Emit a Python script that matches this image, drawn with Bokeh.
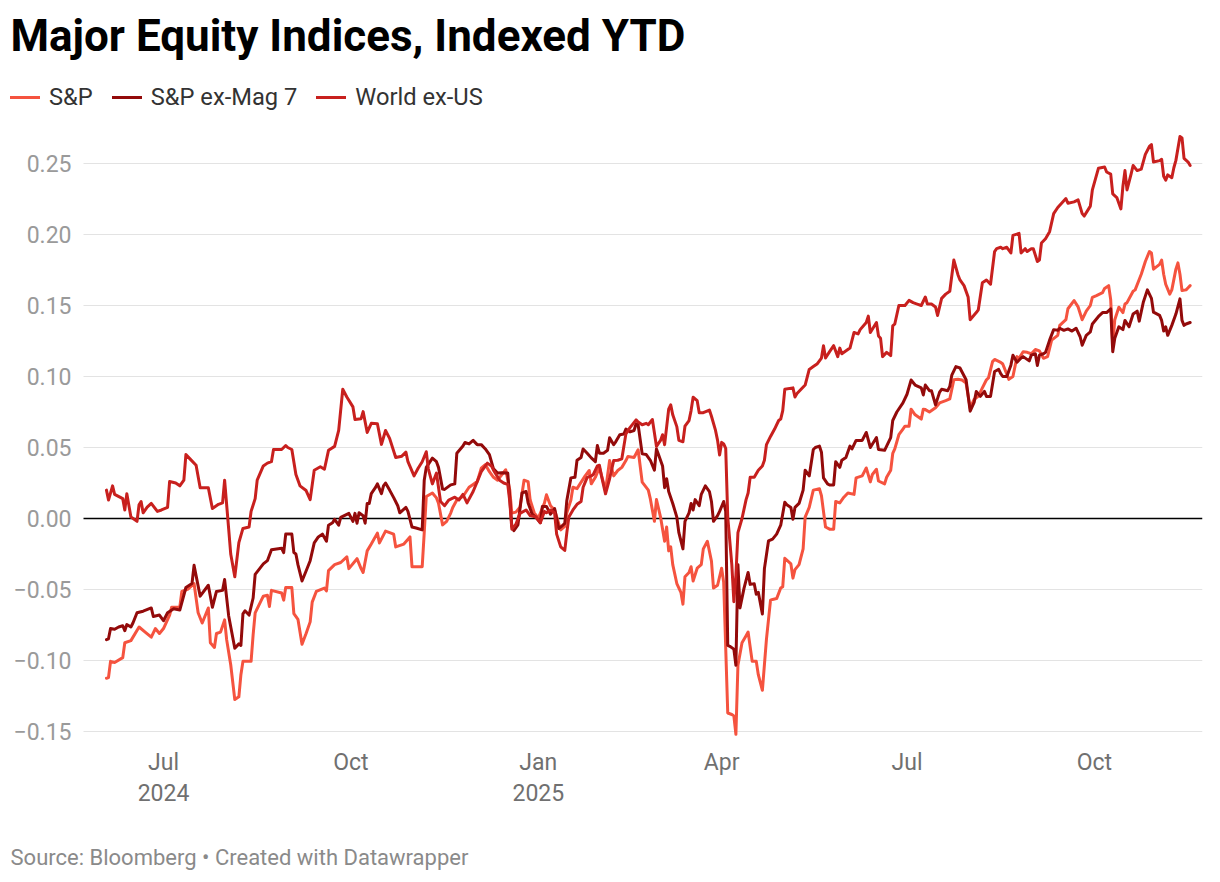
import pandas as pd
from bokeh.plotting import figure
from bokeh.models import (FixedTicker, CustomJSTickFormatter, DatetimeAxis, Label, Legend,
                          LegendItem, Range1d, ColumnDataSource)
from bokeh.core.properties import value
from bokeh.embed import file_html
from bokeh.resources import INLINE

TITLE = "Major Equity Indices, Indexed YTD"
SOURCE = "Source: Bloomberg \u2022 Created with Datawrapper"
series_names = ["S&P", "S&P ex-Mag 7", "World ex-US"]
series_colors = ["#f5533f", "#930a0a", "#c8201e"]

y_ticks = [-0.15, -0.10, -0.05, 0.0, 0.05, 0.10, 0.15, 0.20, 0.25]
y_tick_labels = ["\u22120.15", "\u22120.10", "\u22120.05", "0.00", "0.05", "0.10", "0.15", "0.20", "0.25"]
x_tick_dates = ["2024-07-01", "2024-10-01", "2025-01-01", "2025-04-01", "2025-07-01", "2025-10-01"]
x_tick_labels = ["Jul\n2024", "Oct", "Jan\n2025", "Apr", "Jul", "Oct"]

sp_points = [
    ("2024-06-03", -0.1125), ("2024-06-04", -0.112), ("2024-06-05", -0.1006), ("2024-06-07", -0.1014),
    ("2024-06-11", -0.098), ("2024-06-12", -0.0875), ("2024-06-15", -0.086), ("2024-06-19", -0.0764),
    ("2024-06-22", -0.080), ("2024-06-25", -0.0836), ("2024-06-27", -0.0775), ("2024-06-29", -0.081),
    ("2024-07-01", -0.0775), ("2024-07-04", -0.068), ("2024-07-05", -0.0625), ("2024-07-09", -0.0625),
    ("2024-07-10", -0.0514), ("2024-07-13", -0.0497), ("2024-07-16", -0.0458), ("2024-07-18", -0.0664),
    ("2024-07-20", -0.0736), ("2024-07-23", -0.063), ("2024-07-24", -0.0875), ("2024-07-26", -0.0908),
    ("2024-07-27", -0.081), ("2024-07-29", -0.080), ("2024-07-31", -0.0714), ("2024-08-01", -0.0853),
    ("2024-08-03", -0.103), ("2024-08-05", -0.1275), ("2024-08-07", -0.1256), ("2024-08-08", -0.110),
    ("2024-08-09", -0.1006), ("2024-08-13", -0.1006), ("2024-08-14", -0.082), ("2024-08-15", -0.0664),
    ("2024-08-19", -0.0547), ("2024-08-21", -0.054), ("2024-08-22", -0.062), ("2024-08-23", -0.0506),
    ("2024-08-28", -0.0525), ("2024-08-29", -0.0575), ("2024-08-30", -0.0486), ("2024-09-02", -0.0486),
    ("2024-09-03", -0.067), ("2024-09-05", -0.071), ("2024-09-07", -0.0886), ("2024-09-09", -0.081),
    ("2024-09-11", -0.0728), ("2024-09-12", -0.0589), ("2024-09-14", -0.0514), ("2024-09-18", -0.049),
    ("2024-09-19", -0.051), ("2024-09-20", -0.0367), ("2024-09-23", -0.0325), ("2024-09-26", -0.031),
    ("2024-09-29", -0.027), ("2024-09-30", -0.0353), ("2024-10-04", -0.0283), ("2024-10-06", -0.0353),
    ("2024-10-07", -0.038), ("2024-10-09", -0.0228), ("2024-10-11", -0.018), ("2024-10-14", -0.0103),
    ("2024-10-15", -0.0172), ("2024-10-18", -0.0089), ("2024-10-22", -0.011), ("2024-10-23", -0.020),
    ("2024-10-27", -0.018), ("2024-10-30", -0.013), ("2024-10-31", -0.034), ("2024-11-05", -0.034),
    ("2024-11-06", -0.010), ("2024-11-07", 0.0155), ("2024-11-10", 0.018), ("2024-11-12", 0.0145),
    ("2024-11-13", 0.0108), ("2024-11-15", -0.0045), ("2024-11-17", -0.002), ("2024-11-19", 0.0038),
    ("2024-11-20", 0.0078), ("2024-11-22", 0.013), ("2024-11-25", 0.0155), ("2024-11-28", 0.022),
    ("2024-11-30", 0.024), ("2024-12-02", 0.026), ("2024-12-04", 0.0354), ("2024-12-06", 0.038),
    ("2024-12-08", 0.033), ("2024-12-10", 0.029), ("2024-12-12", 0.027), ("2024-12-16", 0.0343),
    ("2024-12-18", 0.020), ("2024-12-19", 0.0038), ("2024-12-21", 0.0045), ("2024-12-23", 0.008),
    ("2024-12-25", 0.027), ("2024-12-27", 0.026), ("2024-12-28", 0.013), ("2024-12-30", 0.004),
    ("2025-01-01", 0.0003), ("2025-01-04", 0.0108), ("2025-01-05", 0.0167), ("2025-01-07", 0.009),
    ("2025-01-09", 0.006), ("2025-01-11", -0.0035), ("2025-01-12", -0.008), ("2025-01-14", -0.0056),
    ("2025-01-15", 0.004), ("2025-01-17", 0.013), ("2025-01-18", 0.022), ("2025-01-20", 0.021),
    ("2025-01-24", 0.030), ("2025-01-26", 0.0338), ("2025-01-27", 0.0244), ("2025-01-29", 0.029),
    ("2025-01-31", 0.036), ("2025-02-03", 0.0197), ("2025-02-05", 0.0408), ("2025-02-07", 0.030),
    ("2025-02-09", 0.0338), ("2025-02-11", 0.036), ("2025-02-13", 0.0408), ("2025-02-14", 0.0437),
    ("2025-02-17", 0.043), ("2025-02-19", 0.0484), ("2025-02-21", 0.0256), ("2025-02-24", 0.020),
    ("2025-02-25", 0.0138), ("2025-02-27", -0.002), ("2025-02-28", 0.0133), ("2025-03-02", 0.001),
    ("2025-03-04", -0.016), ("2025-03-05", -0.006), ("2025-03-06", -0.0228), ("2025-03-07", -0.020),
    ("2025-03-08", -0.0325), ("2025-03-10", -0.0458), ("2025-03-12", -0.052), ("2025-03-13", -0.0603),
    ("2025-03-14", -0.041), ("2025-03-16", -0.038), ("2025-03-17", -0.034), ("2025-03-18", -0.044),
    ("2025-03-20", -0.035), ("2025-03-22", -0.0325), ("2025-03-23", -0.0214), ("2025-03-25", -0.016),
    ("2025-03-27", -0.030), ("2025-03-28", -0.049), ("2025-03-30", -0.047), ("2025-04-01", -0.035),
    ("2025-04-02", -0.045), ("2025-04-04", -0.137), ("2025-04-06", -0.138), ("2025-04-07", -0.139),
    ("2025-04-08", -0.152), ("2025-04-09", -0.1033), ("2025-04-11", -0.0875), ("2025-04-13", -0.0825),
    ("2025-04-14", -0.080), ("2025-04-16", -0.1006), ("2025-04-18", -0.1006), ("2025-04-19", -0.110),
    ("2025-04-21", -0.121), ("2025-04-23", -0.085), ("2025-04-25", -0.0575), ("2025-04-26", -0.057),
    ("2025-04-28", -0.0564), ("2025-04-30", -0.049), ("2025-05-01", -0.048), ("2025-05-02", -0.028),
    ("2025-05-05", -0.032), ("2025-05-06", -0.042), ("2025-05-07", -0.036), ("2025-05-09", -0.0325),
    ("2025-05-11", -0.0214), ("2025-05-12", 0.001), ("2025-05-14", 0.0078), ("2025-05-16", 0.020),
    ("2025-05-19", 0.021), ("2025-05-20", 0.016), ("2025-05-22", -0.006), ("2025-05-24", -0.0075),
    ("2025-05-26", -0.0075), ("2025-05-27", 0.012), ("2025-05-29", 0.011), ("2025-05-31", 0.015),
    ("2025-06-02", 0.018), ("2025-06-05", 0.017), ("2025-06-06", 0.0286), ("2025-06-09", 0.030),
    ("2025-06-11", 0.0356), ("2025-06-13", 0.0258), ("2025-06-14", 0.031), ("2025-06-16", 0.0347),
    ("2025-06-17", 0.0264), ("2025-06-20", 0.0244), ("2025-06-21", 0.029), ("2025-06-23", 0.034),
    ("2025-06-24", 0.0458), ("2025-06-25", 0.049), ("2025-06-27", 0.059), ("2025-06-29", 0.063),
    ("2025-06-30", 0.065), ("2025-07-02", 0.065), ("2025-07-03", 0.077), ("2025-07-05", 0.073),
    ("2025-07-08", 0.070), ("2025-07-09", 0.077), ("2025-07-10", 0.0767), ("2025-07-12", 0.075),
    ("2025-07-15", 0.078), ("2025-07-17", 0.0814), ("2025-07-20", 0.083), ("2025-07-22", 0.0842),
    ("2025-07-24", 0.0977), ("2025-07-26", 0.098), ("2025-07-28", 0.0975), ("2025-07-30", 0.0953),
    ("2025-08-01", 0.0779), ("2025-08-03", 0.084), ("2025-08-05", 0.086), ("2025-08-07", 0.092),
    ("2025-08-09", 0.0977), ("2025-08-10", 0.099), ("2025-08-12", 0.1105), ("2025-08-13", 0.112),
    ("2025-08-16", 0.110), ("2025-08-17", 0.1088), ("2025-08-20", 0.098), ("2025-08-22", 0.100),
    ("2025-08-24", 0.114), ("2025-08-25", 0.1128), ("2025-08-27", 0.1174), ("2025-08-29", 0.117),
    ("2025-08-31", 0.116), ("2025-09-02", 0.119), ("2025-09-04", 0.118), ("2025-09-06", 0.1128),
    ("2025-09-08", 0.114), ("2025-09-10", 0.1256), ("2025-09-13", 0.129), ("2025-09-14", 0.136),
    ("2025-09-17", 0.140), ("2025-09-18", 0.1477), ("2025-09-21", 0.1535), ("2025-09-23", 0.149),
    ("2025-09-25", 0.140), ("2025-09-27", 0.146), ("2025-09-29", 0.150), ("2025-09-30", 0.1558),
    ("2025-10-02", 0.157), ("2025-10-05", 0.159), ("2025-10-06", 0.162), ("2025-10-08", 0.164),
    ("2025-10-09", 0.154), ("2025-10-10", 0.122), ("2025-10-11", 0.140), ("2025-10-13", 0.1488),
    ("2025-10-15", 0.145), ("2025-10-16", 0.151), ("2025-10-17", 0.152), ("2025-10-20", 0.160),
    ("2025-10-21", 0.161), ("2025-10-24", 0.172), ("2025-10-26", 0.181), ("2025-10-28", 0.188),
    ("2025-10-29", 0.187), ("2025-10-30", 0.1756), ("2025-11-02", 0.179), ("2025-11-03", 0.182),
    ("2025-11-04", 0.172), ("2025-11-05", 0.165), ("2025-11-07", 0.158), ("2025-11-08", 0.161),
    ("2025-11-10", 0.1756), ("2025-11-11", 0.180), ("2025-11-12", 0.172), ("2025-11-13", 0.1605),
    ("2025-11-15", 0.161), ("2025-11-16", 0.1625), ("2025-11-17", 0.164),
]

sp_ex_mag7_points = [
    ("2024-06-03", -0.0853), ("2024-06-04", -0.0847), ("2024-06-05", -0.0775), ("2024-06-07", -0.078),
    ("2024-06-09", -0.0764), ("2024-06-11", -0.0755), ("2024-06-12", -0.079), ("2024-06-13", -0.0747),
    ("2024-06-15", -0.0764), ("2024-06-16", -0.0736), ("2024-06-18", -0.0664), ("2024-06-21", -0.0653),
    ("2024-06-25", -0.063), ("2024-06-26", -0.069), ("2024-06-29", -0.068), ("2024-07-01", -0.072),
    ("2024-07-03", -0.0664), ("2024-07-06", -0.0636), ("2024-07-09", -0.0645), ("2024-07-12", -0.0486),
    ("2024-07-15", -0.0458), ("2024-07-16", -0.033), ("2024-07-19", -0.0547), ("2024-07-23", -0.047),
    ("2024-07-25", -0.0625), ("2024-07-27", -0.0514), ("2024-07-30", -0.0506), ("2024-07-31", -0.043),
    ("2024-08-02", -0.0686), ("2024-08-05", -0.0914), ("2024-08-07", -0.0883), ("2024-08-08", -0.0894),
    ("2024-08-09", -0.0672), ("2024-08-10", -0.065), ("2024-08-12", -0.068), ("2024-08-14", -0.056),
    ("2024-08-15", -0.0394), ("2024-08-19", -0.032), ("2024-08-21", -0.0297), ("2024-08-23", -0.022),
    ("2024-08-28", -0.021), ("2024-08-29", -0.024), ("2024-08-30", -0.011), ("2024-09-02", -0.011),
    ("2024-09-03", -0.024), ("2024-09-04", -0.025), ("2024-09-05", -0.0325), ("2024-09-07", -0.044),
    ("2024-09-09", -0.037), ("2024-09-11", -0.0297), ("2024-09-13", -0.0172), ("2024-09-15", -0.013),
    ("2024-09-17", -0.011), ("2024-09-19", -0.016), ("2024-09-20", -0.0047), ("2024-09-22", -0.003),
    ("2024-09-23", -0.0006), ("2024-09-25", -0.0047), ("2024-09-26", 0.0008), ("2024-09-28", 0.0022),
    ("2024-09-30", 0.0036), ("2024-10-02", -0.002), ("2024-10-03", 0.0036), ("2024-10-04", -0.0033),
    ("2024-10-05", 0.004), ("2024-10-07", 0.002), ("2024-10-08", -0.0033), ("2024-10-09", 0.0106),
    ("2024-10-10", 0.0106), ("2024-10-11", 0.0175), ("2024-10-13", 0.0217), ("2024-10-14", 0.0244),
    ("2024-10-16", 0.0175), ("2024-10-17", 0.023), ("2024-10-18", 0.025), ("2024-10-20", 0.020),
    ("2024-10-22", 0.0147), ("2024-10-24", 0.009), ("2024-10-25", 0.004), ("2024-10-28", 0.0078),
    ("2024-10-29", 0.005), ("2024-10-31", -0.006), ("2024-11-02", -0.0067), ("2024-11-05", -0.008),
    ("2024-11-06", 0.027), ("2024-11-07", 0.036), ("2024-11-10", 0.0425), ("2024-11-12", 0.040),
    ("2024-11-13", 0.036), ("2024-11-15", 0.0207), ("2024-11-16", 0.0205), ("2024-11-19", 0.0237),
    ("2024-11-21", 0.0244), ("2024-11-22", 0.046), ("2024-11-25", 0.051), ("2024-11-26", 0.0535),
    ("2024-11-28", 0.0525), ("2024-11-30", 0.055), ("2024-12-02", 0.052), ("2024-12-04", 0.052),
    ("2024-12-06", 0.049), ("2024-12-08", 0.045), ("2024-12-10", 0.035), ("2024-12-12", 0.032),
    ("2024-12-14", 0.0322), ("2024-12-17", 0.032), ("2024-12-18", 0.014), ("2024-12-19", -0.0056),
    ("2024-12-20", -0.0085), ("2024-12-22", -0.0045), ("2024-12-24", 0.018), ("2024-12-26", 0.019),
    ("2024-12-27", 0.011), ("2024-12-29", 0.003), ("2024-12-31", 0.0005), ("2025-01-02", -0.003),
    ("2025-01-03", 0.0085), ("2025-01-05", 0.0085), ("2025-01-07", 0.003), ("2025-01-09", 0.007),
    ("2025-01-11", -0.007), ("2025-01-12", -0.006), ("2025-01-14", -0.0035), ("2025-01-15", 0.0127),
    ("2025-01-17", 0.0286), ("2025-01-19", 0.029), ("2025-01-20", 0.041), ("2025-01-22", 0.043),
    ("2025-01-23", 0.049), ("2025-01-25", 0.046), ("2025-01-27", 0.0427), ("2025-01-29", 0.040),
    ("2025-01-30", 0.0514), ("2025-01-31", 0.046), ("2025-02-02", 0.046), ("2025-02-04", 0.048),
    ("2025-02-05", 0.0568), ("2025-02-07", 0.052), ("2025-02-08", 0.054), ("2025-02-10", 0.059),
    ("2025-02-12", 0.0595), ("2025-02-13", 0.063), ("2025-02-15", 0.061), ("2025-02-17", 0.062),
    ("2025-02-18", 0.0667), ("2025-02-19", 0.066), ("2025-02-21", 0.0455), ("2025-02-23", 0.045),
    ("2025-02-25", 0.041), ("2025-02-27", 0.034), ("2025-02-28", 0.049), ("2025-03-01", 0.045),
    ("2025-03-03", 0.037), ("2025-03-04", 0.0217), ("2025-03-05", 0.028), ("2025-03-06", 0.019),
    ("2025-03-08", 0.0106), ("2025-03-10", 0.001), ("2025-03-11", -0.010), ("2025-03-13", -0.0214),
    ("2025-03-14", -0.002), ("2025-03-16", 0.004), ("2025-03-17", 0.0106), ("2025-03-18", 0.006),
    ("2025-03-19", 0.0133), ("2025-03-21", 0.009), ("2025-03-22", 0.017), ("2025-03-24", 0.023),
    ("2025-03-26", 0.019), ("2025-03-27", 0.012), ("2025-03-28", -0.002), ("2025-03-30", 0.002),
    ("2025-03-31", 0.005), ("2025-04-02", 0.012), ("2025-04-03", 0.005), ("2025-04-04", -0.0894),
    ("2025-04-05", -0.090), ("2025-04-07", -0.092), ("2025-04-08", -0.1033), ("2025-04-09", -0.0325),
    ("2025-04-10", -0.063), ("2025-04-12", -0.049), ("2025-04-14", -0.038), ("2025-04-15", -0.0464),
    ("2025-04-17", -0.046), ("2025-04-18", -0.0533), ("2025-04-19", -0.052), ("2025-04-21", -0.0672),
    ("2025-04-22", -0.0353), ("2025-04-24", -0.0158), ("2025-04-26", -0.0145), ("2025-04-28", -0.011),
    ("2025-04-30", -0.0047), ("2025-05-02", 0.0114), ("2025-05-03", 0.0097), ("2025-05-05", 0.0078),
    ("2025-05-06", -0.0006), ("2025-05-07", 0.0078), ("2025-05-09", 0.0106), ("2025-05-11", 0.020),
    ("2025-05-12", 0.034), ("2025-05-14", 0.030), ("2025-05-16", 0.0486), ("2025-05-17", 0.050),
    ("2025-05-19", 0.051), ("2025-05-20", 0.0467), ("2025-05-21", 0.0286), ("2025-05-23", 0.0244),
    ("2025-05-24", 0.0236), ("2025-05-26", 0.0236), ("2025-05-27", 0.040), ("2025-05-29", 0.036),
    ("2025-05-30", 0.041), ("2025-06-01", 0.043), ("2025-06-03", 0.051), ("2025-06-04", 0.049),
    ("2025-06-06", 0.055), ("2025-06-09", 0.055), ("2025-06-11", 0.0606), ("2025-06-13", 0.050),
    ("2025-06-16", 0.057), ("2025-06-17", 0.0486), ("2025-06-20", 0.048), ("2025-06-21", 0.051),
    ("2025-06-23", 0.057), ("2025-06-24", 0.069), ("2025-06-26", 0.075), ("2025-06-29", 0.0814),
    ("2025-07-01", 0.0875), ("2025-07-03", 0.0975), ("2025-07-05", 0.094), ("2025-07-08", 0.092),
    ("2025-07-09", 0.087), ("2025-07-10", 0.094), ("2025-07-12", 0.090), ("2025-07-13", 0.090),
    ("2025-07-15", 0.080), ("2025-07-17", 0.089), ("2025-07-18", 0.091), ("2025-07-21", 0.090),
    ("2025-07-22", 0.093), ("2025-07-23", 0.101), ("2025-07-25", 0.107), ("2025-07-27", 0.106),
    ("2025-07-30", 0.0977), ("2025-08-01", 0.0756), ("2025-08-03", 0.082), ("2025-08-04", 0.0895),
    ("2025-08-06", 0.086), ("2025-08-08", 0.0895), ("2025-08-09", 0.086), ("2025-08-11", 0.086),
    ("2025-08-13", 0.1035), ("2025-08-15", 0.105), ("2025-08-16", 0.102), ("2025-08-17", 0.100),
    ("2025-08-19", 0.100), ("2025-08-21", 0.108), ("2025-08-22", 0.115), ("2025-08-24", 0.110),
    ("2025-08-26", 0.113), ("2025-08-27", 0.114), ("2025-08-30", 0.111), ("2025-08-31", 0.115),
    ("2025-09-02", 0.116), ("2025-09-03", 0.1077), ("2025-09-04", 0.115), ("2025-09-06", 0.116),
    ("2025-09-07", 0.117), ("2025-09-09", 0.1256), ("2025-09-11", 0.133), ("2025-09-13", 0.1325),
    ("2025-09-14", 0.134), ("2025-09-16", 0.1325), ("2025-09-18", 0.1335), ("2025-09-20", 0.132),
    ("2025-09-22", 0.134), ("2025-09-24", 0.128), ("2025-09-25", 0.122), ("2025-09-27", 0.129),
    ("2025-09-29", 0.1314), ("2025-09-30", 0.137), ("2025-10-03", 0.1423), ("2025-10-05", 0.145),
    ("2025-10-07", 0.145), ("2025-10-09", 0.1477), ("2025-10-10", 0.1174), ("2025-10-11", 0.127),
    ("2025-10-13", 0.135), ("2025-10-15", 0.133), ("2025-10-16", 0.1395), ("2025-10-18", 0.135),
    ("2025-10-20", 0.144), ("2025-10-22", 0.146), ("2025-10-23", 0.139), ("2025-10-25", 0.1523),
    ("2025-10-27", 0.161), ("2025-10-29", 0.155), ("2025-10-30", 0.1453), ("2025-11-02", 0.143),
    ("2025-11-03", 0.1395), ("2025-11-04", 0.132), ("2025-11-05", 0.135), ("2025-11-06", 0.129),
    ("2025-11-08", 0.136), ("2025-11-10", 0.144), ("2025-11-12", 0.1547), ("2025-11-13", 0.1395),
    ("2025-11-14", 0.136), ("2025-11-15", 0.137), ("2025-11-17", 0.138),
]

world_ex_us_points = [
    ("2024-06-03", 0.020), ("2024-06-04", 0.013), ("2024-06-06", 0.023), ("2024-06-07", 0.017),
    ("2024-06-11", 0.014), ("2024-06-12", 0.006), ("2024-06-13", 0.0175), ("2024-06-15", 0.001),
    ("2024-06-18", -0.002), ("2024-06-19", 0.0097), ("2024-06-20", 0.012), ("2024-06-21", 0.004),
    ("2024-06-23", 0.008), ("2024-06-25", 0.0106), ("2024-06-28", 0.005), ("2024-06-30", 0.006),
    ("2024-07-03", 0.0078), ("2024-07-04", 0.026), ("2024-07-07", 0.025), ("2024-07-09", 0.023),
    ("2024-07-11", 0.027), ("2024-07-12", 0.045), ("2024-07-14", 0.042), ("2024-07-17", 0.0375),
    ("2024-07-19", 0.0217), ("2024-07-23", 0.0217), ("2024-07-25", 0.007), ("2024-07-28", 0.010),
    ("2024-07-30", 0.011), ("2024-07-31", 0.027), ("2024-08-02", -0.0075), ("2024-08-03", -0.025),
    ("2024-08-05", -0.041), ("2024-08-07", -0.017), ("2024-08-09", -0.007), ("2024-08-12", -0.006),
    ("2024-08-13", 0.005), ("2024-08-15", 0.014), ("2024-08-16", 0.027), ("2024-08-19", 0.037),
    ("2024-08-21", 0.039), ("2024-08-23", 0.040), ("2024-08-24", 0.0486), ("2024-08-28", 0.0486),
    ("2024-08-30", 0.0514), ("2024-08-31", 0.050), ("2024-09-02", 0.0486), ("2024-09-04", 0.031),
    ("2024-09-06", 0.023), ("2024-09-09", 0.0197), ("2024-09-11", 0.0133), ("2024-09-13", 0.034),
    ("2024-09-16", 0.0364), ("2024-09-18", 0.0347), ("2024-09-20", 0.048), ("2024-09-21", 0.049),
    ("2024-09-23", 0.0508), ("2024-09-25", 0.062), ("2024-09-27", 0.091), ("2024-09-29", 0.0856),
    ("2024-10-02", 0.0786), ("2024-10-03", 0.0697), ("2024-10-06", 0.0703), ("2024-10-07", 0.0753),
    ("2024-10-09", 0.0606), ("2024-10-11", 0.067), ("2024-10-14", 0.0667), ("2024-10-16", 0.0522),
    ("2024-10-18", 0.062), ("2024-10-20", 0.0564), ("2024-10-23", 0.043), ("2024-10-26", 0.0439),
    ("2024-10-28", 0.0467), ("2024-10-29", 0.040), ("2024-11-01", 0.030), ("2024-11-03", 0.0354),
    ("2024-11-05", 0.040), ("2024-11-07", 0.047), ("2024-11-08", 0.035), ("2024-11-10", 0.0244),
    ("2024-11-12", 0.032), ("2024-11-14", 0.012), ("2024-11-16", 0.009), ("2024-11-18", 0.013),
    ("2024-11-21", 0.015), ("2024-11-23", 0.013), ("2024-11-25", 0.017), ("2024-11-27", 0.011),
    ("2024-11-30", 0.019), ("2024-12-02", 0.026), ("2024-12-04", 0.033), ("2024-12-07", 0.039),
    ("2024-12-09", 0.037), ("2024-12-10", 0.034), ("2024-12-13", 0.027), ("2024-12-15", 0.025),
    ("2024-12-17", 0.024), ("2024-12-18", 0.012), ("2024-12-19", -0.0075), ("2024-12-21", -0.004),
    ("2024-12-23", 0.0036), ("2024-12-26", 0.006), ("2024-12-28", 0.002), ("2024-12-31", 0.001),
    ("2025-01-02", -0.003), ("2025-01-04", 0.005), ("2025-01-05", 0.004), ("2025-01-07", 0.006),
    ("2025-01-09", 0.004), ("2025-01-10", -0.011), ("2025-01-12", -0.020), ("2025-01-14", -0.0225),
    ("2025-01-15", -0.010), ("2025-01-16", 0.001), ("2025-01-18", 0.006), ("2025-01-20", 0.010),
    ("2025-01-22", 0.012), ("2025-01-23", 0.022), ("2025-01-25", 0.029), ("2025-01-27", 0.030),
    ("2025-01-28", 0.031), ("2025-01-30", 0.037), ("2025-01-31", 0.0375), ("2025-02-01", 0.030),
    ("2025-02-03", 0.0174), ("2025-02-05", 0.028), ("2025-02-07", 0.0408), ("2025-02-09", 0.041),
    ("2025-02-11", 0.042), ("2025-02-13", 0.0596), ("2025-02-15", 0.064), ("2025-02-18", 0.0695),
    ("2025-02-19", 0.068), ("2025-02-21", 0.066), ("2025-02-23", 0.067), ("2025-02-24", 0.066),
    ("2025-02-26", 0.0697), ("2025-02-28", 0.0508), ("2025-03-02", 0.055), ("2025-03-03", 0.059),
    ("2025-03-04", 0.052), ("2025-03-06", 0.077), ("2025-03-07", 0.080), ("2025-03-08", 0.073),
    ("2025-03-10", 0.0647), ("2025-03-11", 0.055), ("2025-03-13", 0.054), ("2025-03-14", 0.065),
    ("2025-03-16", 0.069), ("2025-03-17", 0.076), ("2025-03-18", 0.0854), ("2025-03-20", 0.083),
    ("2025-03-21", 0.0744), ("2025-03-23", 0.0745), ("2025-03-26", 0.0764), ("2025-03-27", 0.072),
    ("2025-03-29", 0.062), ("2025-03-30", 0.055), ("2025-03-31", 0.0447), ("2025-04-01", 0.0536),
    ("2025-04-02", 0.0525), ("2025-04-03", 0.0494), ("2025-04-04", 0.001), ("2025-04-06", -0.0325),
    ("2025-04-07", -0.0586), ("2025-04-08", -0.040), ("2025-04-09", -0.010), ("2025-04-11", 0.000),
    ("2025-04-13", 0.0133), ("2025-04-14", 0.018), ("2025-04-15", 0.029), ("2025-04-17", 0.029),
    ("2025-04-19", 0.034), ("2025-04-21", 0.037), ("2025-04-22", 0.041), ("2025-04-23", 0.052),
    ("2025-04-25", 0.0578), ("2025-04-27", 0.063), ("2025-04-29", 0.069), ("2025-04-30", 0.070),
    ("2025-05-01", 0.076), ("2025-05-02", 0.091), ("2025-05-06", 0.092), ("2025-05-07", 0.0856),
    ("2025-05-08", 0.088), ("2025-05-10", 0.091), ("2025-05-12", 0.094), ("2025-05-14", 0.105),
    ("2025-05-16", 0.107), ("2025-05-18", 0.109), ("2025-05-20", 0.113), ("2025-05-21", 0.1217),
    ("2025-05-22", 0.113), ("2025-05-24", 0.1175), ("2025-05-26", 0.1217), ("2025-05-28", 0.114),
    ("2025-05-29", 0.120), ("2025-05-30", 0.116), ("2025-06-03", 0.120), ("2025-06-05", 0.131),
    ("2025-06-07", 0.130), ("2025-06-08", 0.133), ("2025-06-11", 0.138), ("2025-06-12", 0.1425),
    ("2025-06-13", 0.131), ("2025-06-16", 0.138), ("2025-06-17", 0.1286), ("2025-06-18", 0.127),
    ("2025-06-19", 0.114), ("2025-06-21", 0.117), ("2025-06-23", 0.1147), ("2025-06-24", 0.1356),
    ("2025-06-25", 0.137), ("2025-06-27", 0.150), ("2025-06-30", 0.150), ("2025-07-02", 0.1536),
    ("2025-07-04", 0.152), ("2025-07-06", 0.151), ("2025-07-08", 0.150), ("2025-07-10", 0.156),
    ("2025-07-11", 0.151), ("2025-07-13", 0.151), ("2025-07-15", 0.149), ("2025-07-16", 0.143),
    ("2025-07-18", 0.155), ("2025-07-20", 0.158), ("2025-07-22", 0.160), ("2025-07-24", 0.182),
    ("2025-07-26", 0.1717), ("2025-07-27", 0.168), ("2025-07-29", 0.164), ("2025-07-31", 0.156),
    ("2025-08-01", 0.140), ("2025-08-04", 0.145), ("2025-08-05", 0.147), ("2025-08-07", 0.166),
    ("2025-08-09", 0.168), ("2025-08-11", 0.165), ("2025-08-13", 0.188), ("2025-08-14", 0.190),
    ("2025-08-16", 0.191), ("2025-08-17", 0.190), ("2025-08-19", 0.191), ("2025-08-21", 0.187),
    ("2025-08-22", 0.1994), ("2025-08-25", 0.2008), ("2025-08-26", 0.187), ("2025-08-28", 0.190),
    ("2025-08-29", 0.188), ("2025-08-31", 0.190), ("2025-09-01", 0.190), ("2025-09-03", 0.181),
    ("2025-09-04", 0.182), ("2025-09-05", 0.194), ("2025-09-07", 0.197), ("2025-09-09", 0.202),
    ("2025-09-11", 0.2147), ("2025-09-13", 0.219), ("2025-09-17", 0.2253), ("2025-09-18", 0.222),
    ("2025-09-21", 0.223), ("2025-09-23", 0.2244), ("2025-09-25", 0.2147), ("2025-09-26", 0.213),
    ("2025-09-29", 0.220), ("2025-09-30", 0.2314), ("2025-10-03", 0.2467), ("2025-10-06", 0.2475),
    ("2025-10-07", 0.244), ("2025-10-09", 0.2425), ("2025-10-10", 0.2286), ("2025-10-12", 0.226),
    ("2025-10-14", 0.218), ("2025-10-15", 0.234), ("2025-10-16", 0.245), ("2025-10-17", 0.2314),
    ("2025-10-19", 0.2425), ("2025-10-20", 0.2486), ("2025-10-22", 0.245), ("2025-10-24", 0.246),
    ("2025-10-26", 0.2564), ("2025-10-28", 0.262), ("2025-10-29", 0.2633), ("2025-10-30", 0.251),
    ("2025-11-02", 0.252), ("2025-11-03", 0.253), ("2025-11-04", 0.241), ("2025-11-05", 0.2383),
    ("2025-11-06", 0.242), ("2025-11-08", 0.240), ("2025-11-09", 0.247), ("2025-11-10", 0.2522),
    ("2025-11-12", 0.269), ("2025-11-13", 0.268), ("2025-11-14", 0.2536), ("2025-11-16", 0.251),
    ("2025-11-17", 0.2486),
]

all_series = [sp_points, sp_ex_mag7_points, world_ex_us_points]

# ---------------- layout ----------------
# The frame spans the canvas above the x-axis band (0..1202 px wide, 0..740 px tall);
# the value gridlines start 83 px in, as in the reference.
W, H = 1220, 882
FRAME_R, FRAME_B = 1202, 740

x_range = Range1d(pd.Timestamp("2024-04-11 23:31"), pd.Timestamp("2025-11-23 01:30"))
y_range = Range1d(-0.156338, 0.364789)
grid_x0 = pd.Timestamp("2024-05-22 17:30")      # where the value gridlines begin
grid_x1 = pd.Timestamp("2025-11-23 01:30")      # right edge of the plot
source_center = pd.Timestamp("2024-08-07 07:00")  # horizontal centre of the source note

p = figure(width=W, height=H, x_axis_type="datetime", x_range=x_range, y_range=y_range,
           output_backend="svg", toolbar_location=None, title=None, y_axis_location=None,
           min_border_left=0, min_border_right=W - FRAME_R,
           min_border_top=0, min_border_bottom=H - FRAME_B)
p.outline_line_color = None
p.background_fill_color = "white"
p.border_fill_color = "white"
p.grid.visible = False

# value gridlines + zero baseline (zero drawn last so it sits on top)
order = sorted(range(len(y_ticks)), key=lambda i: y_ticks[i] == 0)
grid_src = ColumnDataSource(dict(
    x0=[grid_x0] * len(y_ticks), x1=[grid_x1] * len(y_ticks), y=[y_ticks[i] for i in order],
    color=["#000000" if y_ticks[i] == 0 else "#e3e3e3" for i in order],
    width=[1.6 if y_ticks[i] == 0 else 1.0 for i in order]))
p.segment(x0="x0", y0="y", x1="x1", y1="y", source=grid_src, line_color="color", line_width="width")

# value labels
p.text(x=[grid_x0] * len(y_ticks), y=y_ticks, text=y_tick_labels, x_offset=-12,
       text_align="right", text_baseline="middle", text_font=value("Roboto"),
       text_font_size="23px", text_color="#9a9a9a")

# x axis (real axis in the bottom band)
xax = p.xaxis[0]
x_tick_ms = [int(pd.Timestamp(d).timestamp() * 1000) for d in x_tick_dates]
xax.ticker = FixedTicker(ticks=x_tick_ms)
xax.formatter = CustomJSTickFormatter(args=dict(labels=x_tick_labels), code="return labels[index];")
xax.axis_line_color = None
xax.major_tick_line_color = None
xax.minor_tick_line_color = None
xax.major_tick_out = 0
xax.major_tick_in = 0
xax.major_label_standoff = 8
xax.major_label_text_font = "Roboto"
xax.major_label_text_font_size = "23px"
xax.major_label_text_color = "#707070"
xax.major_label_text_line_height = 1.15

# source note: a second, label-only axis stacked under the date axis
src_axis = DatetimeAxis(
    ticker=FixedTicker(ticks=[int(source_center.timestamp() * 1000)]),
    formatter=CustomJSTickFormatter(args=dict(t=SOURCE), code="return t;"),
    axis_line_color=None, major_tick_line_color=None, minor_tick_line_color=None,
    major_tick_in=0, major_tick_out=0, major_label_standoff=35,
    major_label_text_align="center", major_label_text_font="Roboto",
    major_label_text_font_size="22px", major_label_text_color="#8a8a8a")
p.add_layout(src_axis, "below")

# data lines
renderers = []
for pts, color in zip(all_series, series_colors):
    src = ColumnDataSource(dict(x=pd.to_datetime([d for d, _ in pts]), y=[v for _, v in pts]))
    r = p.line("x", "y", source=src, line_color=color, line_width=3, line_join="round", line_cap="round")
    renderers.append(r)

# legend (inside the frame, top band)
legend = Legend(items=[LegendItem(label=n, renderers=[r]) for n, r in zip(series_names, renderers)],
                orientation="horizontal", location=(10, FRAME_B - 111),
                glyph_width=30, glyph_height=26, label_height=26, label_standoff=9, spacing=19,
                padding=0, margin=0, border_line_color=None, background_fill_alpha=0,
                label_text_font="Roboto", label_text_font_size="23.7px", label_text_color="#333333")
p.add_layout(legend)

# title
p.add_layout(Label(x=10, y=FRAME_B - 35, x_units="screen", y_units="screen", text=TITLE,
                   text_font="Roboto", text_font_style="bold", text_font_size="44px",
                   text_color="#000000", text_baseline="alphabetic"))

open("out.html", "w").write(file_html(p, INLINE))
